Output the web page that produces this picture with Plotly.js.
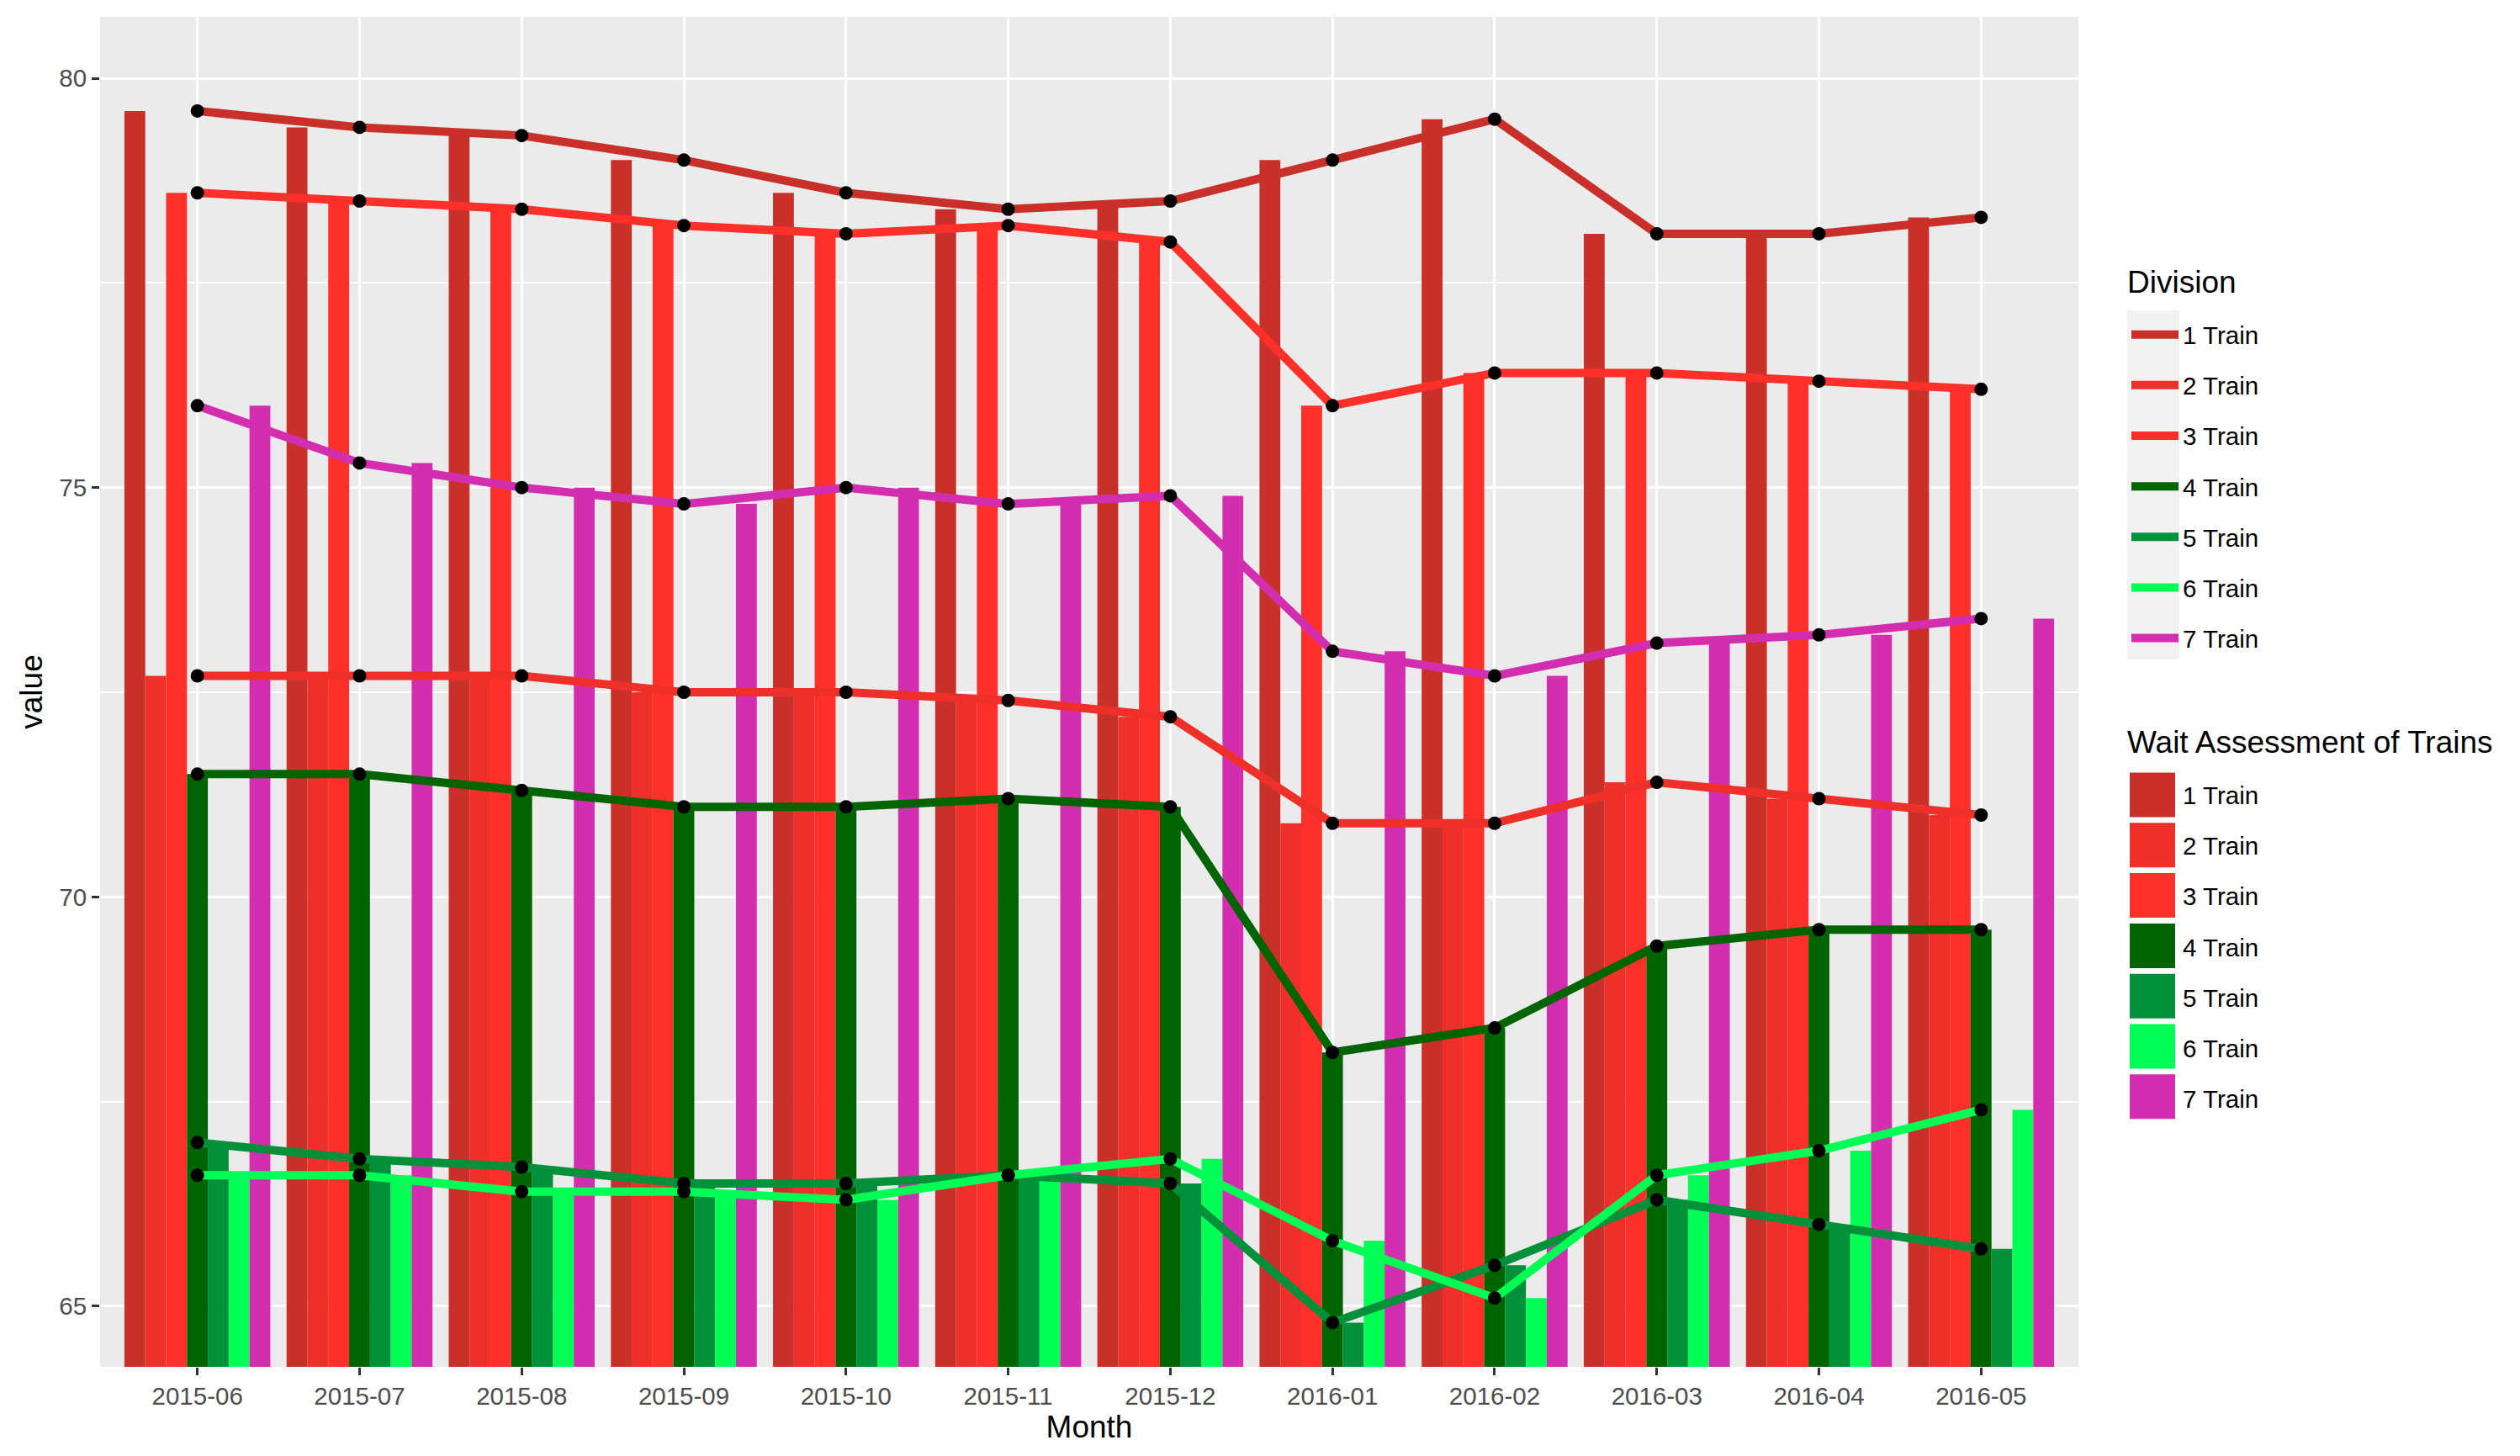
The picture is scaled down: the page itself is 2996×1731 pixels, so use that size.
<!DOCTYPE html>
<html>
<head>
<meta charset="utf-8">
<script src="https://cdn.plot.ly/plotly-3.0.1.min.js"></script>
<style>html,body{margin:0;padding:0;background:#fff;}#chart{width:2996px;height:1731px;}</style>
</head>
<body>
<div id="chart"></div>
<script>
const months = ['2015-06','2015-07','2015-08','2015-09','2015-10','2015-11','2015-12','2016-01','2016-02','2016-03','2016-04','2016-05'];
const trainNames = ['1 Train','2 Train','3 Train','4 Train','5 Train','6 Train','7 Train'];
const train1 = [79.6,79.4,79.3,79.0,78.6,78.4,78.5,79.0,79.5,78.1,78.1,78.3];
const train2 = [72.7,72.7,72.7,72.5,72.5,72.4,72.2,70.9,70.9,71.4,71.2,71.0];
const train3 = [78.6,78.5,78.4,78.2,78.1,78.2,78.0,76.0,76.4,76.4,76.3,76.2];
const train4 = [71.5,71.5,71.3,71.1,71.1,71.2,71.1,68.1,68.4,69.4,69.6,69.6];
const train5 = [67.0,66.8,66.7,66.5,66.5,66.6,66.5,64.8,65.5,66.3,66.0,65.7];
const train6 = [66.6,66.6,66.4,66.4,66.3,66.6,66.8,65.8,65.1,66.6,66.9,67.4];
const train7 = [76.0,75.3,75.0,74.8,75.0,74.8,74.9,73.0,72.7,73.1,73.2,73.4];
const trainColors = ['#C9302A','#EE2F2A','#FF2F2A','#006400','#00913A','#00FF55','#D42EB0'];
const legendTitles = ['Division','Wait Assessment of Trains'];

const series = [train1,train2,train3,train4,train5,train6,train7];
const traces = [];

// Bars: Wait Assessment of Trains
series.forEach((vals,i)=>{
  traces.push({
    type:'bar', x:months, y:vals, name:trainNames[i],
    marker:{color:trainColors[i], line:{width:0}},
    legend:'legend2', legendgroup:'w'+i, showlegend:true
  });
});
// Lines: Division
series.forEach((vals,i)=>{
  traces.push({
    type:'scatter', mode:'lines', x:months, y:vals, name:trainNames[i],
    line:{color:trainColors[i], width:10},
    legend:'legend', legendgroup:'d'+i, showlegend:true
  });
});
// Points on top of all lines
series.forEach((vals,i)=>{
  traces.push({
    type:'scatter', mode:'markers', x:months, y:vals, name:trainNames[i],
    marker:{color:'#000000', size:16},
    legendgroup:'d'+i, showlegend:false
  });
});

// ---- legend geometry (pixels in the 2996x1731 page) ----
const W = 2996, H = 1731;
const M = {l:119, r:525, t:20, b:106};
const PW = W - M.l - M.r, PH = H - M.t - M.b;
const px2x = p => (p - M.l) / PW;
const px2y = p => 1 - (p - M.t) / PH;
const legLeft = 2529, step = 59.8;
const leg1First = 398, leg2First = 945;

const shapes = [];
const annotations = [];
// gray key background behind Division keys (ggplot legend.key)
shapes.push({type:'rect', xref:'paper', yref:'paper', layer:'below',
  x0:px2x(2529), x1:px2x(2591), y0:px2y(leg1First + 6*step + 27), y1:px2y(leg1First - 29),
  fillcolor:'#F2F2F2', line:{width:0}});
trainColors.forEach((c,i)=>{
  // big square keys for the bar legend
  shapes.push({type:'rect', xref:'paper', yref:'paper', layer:'below',
    x0:px2x(2532), x1:px2x(2586), y0:px2y(leg2First + i*step + 26.5), y1:px2y(leg2First + i*step - 26.5),
    fillcolor:c, line:{width:0}});
});
annotations.push({text:legendTitles[0], xref:'paper', yref:'paper', x:px2x(2527), y:px2y(335),
  xanchor:'left', yanchor:'middle', showarrow:false, font:{size:37, color:'#000000'}});
annotations.push({text:legendTitles[1], xref:'paper', yref:'paper', x:px2x(2527), y:px2y(882),
  xanchor:'left', yanchor:'middle', showarrow:false, font:{size:37, color:'#000000'}});

const fontFamily = '"Liberation Sans", Arial, Helvetica, sans-serif';
const legendCommon = {
  font:{size:29.5, color:'#000000'},
  xanchor:'left', yanchor:'top',
  tracegroupgap:18.8, bgcolor:'rgba(0,0,0,0)', borderwidth:0, itemwidth:56,
  traceorder:'grouped'
};
const layout = {
  width:W, height:H,
  margin:{l:M.l, r:M.r, t:M.t, b:M.b, pad:0},
  paper_bgcolor:'#FFFFFF',
  plot_bgcolor:'#EBEBEB',
  font:{family:fontFamily, color:'#000000'},
  barmode:'group', bargap:0.1, bargroupgap:0,
  xaxis:{
    type:'category', range:[-0.6, 11.6], autorange:false,
    showgrid:true, gridcolor:'#FFFFFF', gridwidth:3,
    ticks:'outside', ticklen:9, tickwidth:2.5, tickcolor:'#333333',
    tickfont:{size:29.5, color:'#4D4D4D'},
    zeroline:false, showline:false,
    title:{text:'Month', font:{size:37, color:'#000000'}, standoff:6},
    automargin:false
  },
  yaxis:{
    range:[64.26, 80.75], autorange:false,
    tickvals:[65,70,75,80], ticktext:['65','70','75','80'],
    showgrid:true, gridcolor:'#FFFFFF', gridwidth:3,
    minor:{tickvals:[67.5,72.5,77.5], showgrid:true, gridcolor:'#FFFFFF', gridwidth:1.5, ticks:''},
    ticks:'outside', ticklen:9, tickwidth:2.5, tickcolor:'#333333',
    tickfont:{size:29.5, color:'#4D4D4D'},
    zeroline:false, showline:false,
    title:{text:'value', font:{size:37, color:'#000000'}, standoff:8},
    automargin:false
  },
  legend:Object.assign({}, legendCommon, {x:px2x(legLeft), y:px2y(leg1First - 26)}),
  legend2:Object.assign({}, legendCommon, {x:px2x(legLeft), y:px2y(leg2First - 26)}),
  shapes:shapes,
  annotations:annotations,
  showlegend:true
};

Plotly.newPlot('chart', traces, layout, {displayModeBar:false, responsive:false});
</script>
</body>
</html>
